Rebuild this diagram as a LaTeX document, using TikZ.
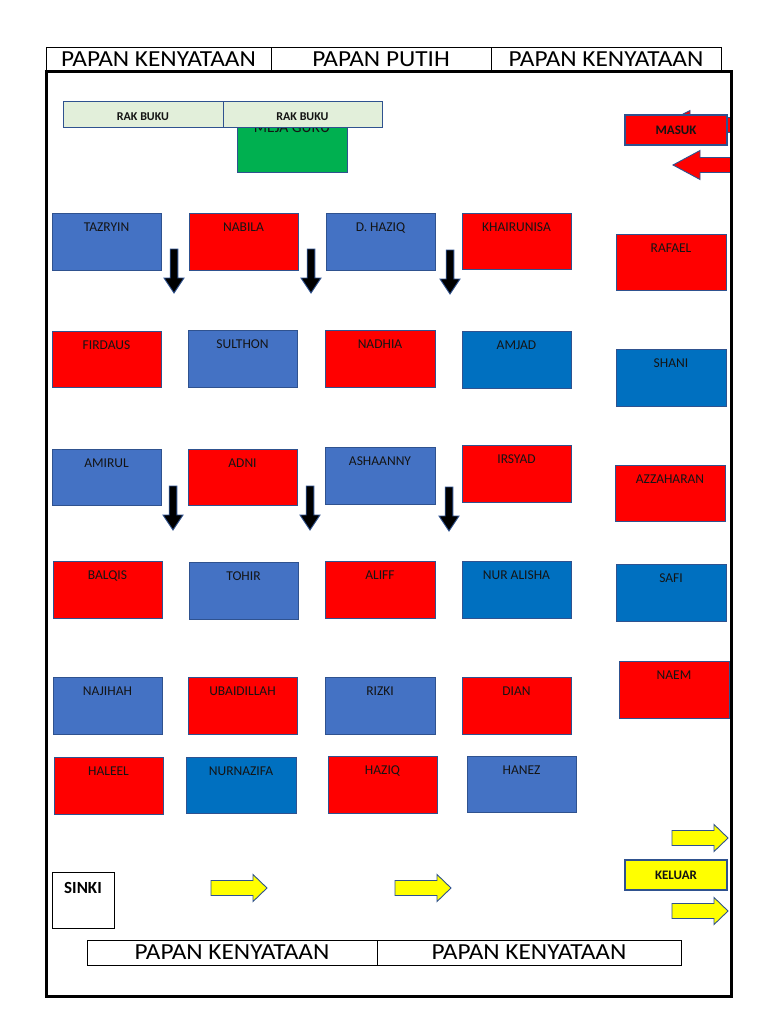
\documentclass[tikz,border=0pt]{standalone}
\usepackage{fontspec}
\setmainfont{Carlito}
\newfontfamily\headfont[FakeStretch=1.1]{Carlito}
\usetikzlibrary{fit}
\definecolor{blueA}{HTML}{4472C4}
\definecolor{blueB}{HTML}{0070C0}
\definecolor{redA}{HTML}{FF0000}
\definecolor{bord}{HTML}{2F528F}
\definecolor{rak}{HTML}{E2EFDA}
\definecolor{guru}{HTML}{00B050}
\definecolor{txt}{HTML}{141414}
\definecolor{yel}{HTML}{FFFF00}
\tikzset{
  seatbox/.style={draw=bord, line width=0.9pt, inner sep=0pt, rectangle},
  namelab/.style={anchor=base, yshift=-19pt, inner sep=0pt, text=txt, font=\fontsize{13.5}{16}\selectfont},
  headtxt/.style={font=\headfont\fontsize{23}{26}\selectfont, text=black, inner sep=0pt},
  boldlab/.style={font=\bfseries\fontsize{13}{15}\selectfont, text=txt, inner sep=0pt},
  blockarrow/.style={draw=bord, line width=0.9pt},
}
\newcommand\seatnode[7]{\node[seatbox, fill=#6, fit={(#2,#3) (#4,#5)}, label={[namelab]north:#7}] (#1) {};}
\newcommand\downarr[3]{\draw[blockarrow, fill=black] (#1-3.8,#2) -- (#1+3.8,#2) -- (#1+3.8,#3-15) -- (#1+10,#3-15) -- (#1,#3) -- (#1-10,#3-15) -- (#1-3.8,#3-15) -- cycle;}
\newcommand\rightarr[4]{\draw[blockarrow, fill=yel] (#1,#4-7.5) -- (#2,#4-7.5) -- (#2,#4-13.5) -- (#3,#4) -- (#2,#4+13.5) -- (#2,#4+7.5) -- (#1,#4+7.5) -- cycle;}
\newcommand\leftarr[4]{\draw[blockarrow, fill=redA] (#1,#4-7.5) -- (#2,#4-7.5) -- (#2,#4-14.5) -- (#3,#4) -- (#2,#4+14.5) -- (#2,#4+7.5) -- (#1,#4+7.5) -- cycle;}
\begin{document}
\begin{tikzpicture}[x=1pt,y=-1pt]
\useasboundingbox (0,0) rectangle (768,1024);
\fill[white] (0,0) rectangle (768,1024);

% top header
\node[draw=black, line width=0.8pt, fit={(46,47) (271,71)}, inner sep=0pt] (hdA) {};
\node[draw=black, line width=0.8pt, fit={(271,47) (491,71)}, inner sep=0pt] (hdB) {};
\node[draw=black, line width=0.8pt, fit={(491,47) (721,71)}, inner sep=0pt] (hdC) {};
\node[headtxt] (hdAt) at (hdA.center) {PAPAN KENYATAAN};
\node[headtxt] (hdBt) at (hdB.center) {PAPAN PUTIH};
\node[headtxt] (hdCt) at (hdC.center) {PAPAN KENYATAAN};

% meja guru and rak buku
\node[draw=bord, line width=0.8pt, fill=guru, fit={(237,118) (347,172)}, inner sep=0pt] (guru) {};
\node[anchor=base, inner sep=0pt, text=txt, font=\fontsize{15.5}{18}\selectfont] (gurut) at (292,133) {MEJA GURU};
\node[draw=bord, line width=1pt, fill=rak, fit={(63,102) (223,128)}, inner sep=0pt] (rakA) {};
\node[draw=bord, line width=1pt, fill=rak, fit={(223,102) (382,128)}, inner sep=0pt] (rakB) {};
\node[font=\bfseries\fontsize{12}{14}\selectfont, text=txt, inner sep=0pt] (rakAt) at (143,117) {RAK BUKU};
\node[font=\bfseries\fontsize{12}{14}\selectfont, text=txt, inner sep=0pt] (rakBt) at (302.5,117) {RAK BUKU};

% masuk
\leftarr{731}{690}{662}{125}
\node[draw=bord, line width=1.2pt, fill=redA, fit={(625,115) (727,145)}, inner sep=0pt] (masuk) {};
\node[boldlab] (masukt) at (masuk.center) {MASUK};
\leftarr{731}{700}{673}{165}

% seats
\seatnode{tazryin}{52}{213}{161}{270}{blueA}{TAZRYIN}
\seatnode{nabila}{189}{213}{298}{270}{redA}{NABILA}
\seatnode{dhaziq}{326}{213}{435}{270}{blueA}{D. HAZIQ}
\seatnode{khairunisa}{462}{213}{571}{269}{redA}{KHAIRUNISA}
\seatnode{rafael}{616}{234}{726}{290}{redA}{RAFAEL}

\seatnode{firdaus}{52}{331}{161}{387}{redA}{FIRDAUS}
\seatnode{sulthon}{188}{330}{297}{387}{blueA}{SULTHON}
\seatnode{nadhia}{325}{330}{435}{387}{redA}{NADHIA}
\seatnode{amjad}{462}{331}{571}{388}{blueB}{AMJAD}
\seatnode{shani}{616}{349}{726}{406}{blueB}{SHANI}

\seatnode{amirul}{52}{449}{161}{505}{blueA}{AMIRUL}
\seatnode{adni}{188}{449}{297}{505}{redA}{ADNI}
\seatnode{ashaanny}{325}{447}{435}{504}{blueA}{ASHAANNY}
\seatnode{irsyad}{462}{445}{571}{502}{redA}{IRSYAD}
\seatnode{azzaharan}{615}{465}{725}{521}{redA}{AZZAHARAN}

\seatnode{balqis}{53}{561}{162}{618}{redA}{BALQIS}
\seatnode{tohir}{189}{562}{298}{619}{blueA}{TOHIR}
\seatnode{aliff}{325}{561}{435}{618}{redA}{ALIFF}
\seatnode{nuralisha}{462}{561}{571}{618}{blueB}{NUR ALISHA}
\seatnode{safi}{616}{564}{726}{621}{blueB}{SAFI}

\seatnode{najihah}{53}{677}{162}{734}{blueA}{NAJIHAH}
\seatnode{ubaidillah}{188}{677}{297}{734}{redA}{UBAIDILLAH}
\seatnode{rizki}{325}{677}{435}{734}{blueA}{RIZKI}
\seatnode{dian}{462}{677}{571}{734}{redA}{DIAN}
\seatnode{naem}{619}{661}{729}{718}{redA}{NAEM}

\seatnode{haleel}{54}{757}{163}{814}{redA}{HALEEL}
\seatnode{nurnazifa}{186}{757}{296}{813}{blueB}{NURNAZIFA}
\seatnode{haziq}{328}{756}{437}{813}{redA}{HAZIQ}
\seatnode{hanez}{467}{756}{576}{812}{blueA}{HANEZ}

% black down arrows
\downarr{174}{249}{293}
\downarr{311}{249}{293}
\downarr{450}{250}{294}
\downarr{173}{486}{530}
\downarr{310}{486}{530}
\downarr{449}{487}{531}

% yellow arrows
\rightarr{211}{253}{267}{888}
\rightarr{395}{437}{451}{888}
\rightarr{672}{714}{728}{838}
\rightarr{672}{714}{728}{911}
\node[draw=bord, line width=1.6pt, fill=yel, fit={(625,860) (727,890)}, inner sep=0pt] (keluar) {};
\node[boldlab] (keluart) at (keluar.center) {KELUAR};

% sinki
\node[draw=black, line width=1pt, fill=white, fit={(52,872) (114,928)}, inner sep=0pt] (sinki) {};
\node[anchor=base, inner sep=0pt, text=black, font=\bfseries\fontsize{17}{19}\selectfont] (sinkit) at (83,893) {SINKI};

% bottom header
\node[draw=black, line width=0.8pt, fit={(87,940) (377,965)}, inner sep=0pt] (bhA) {};
\node[draw=black, line width=0.8pt, fit={(377,940) (681,965)}, inner sep=0pt] (bhB) {};
\node[headtxt] (bhAt) at (bhA.center) {PAPAN KENYATAAN};
\node[headtxt] (bhBt) at (bhB.center) {PAPAN KENYATAAN};

% room border
\draw[black, line width=3pt] (46,72) rectangle (731,996);
\end{tikzpicture}
\end{document}
